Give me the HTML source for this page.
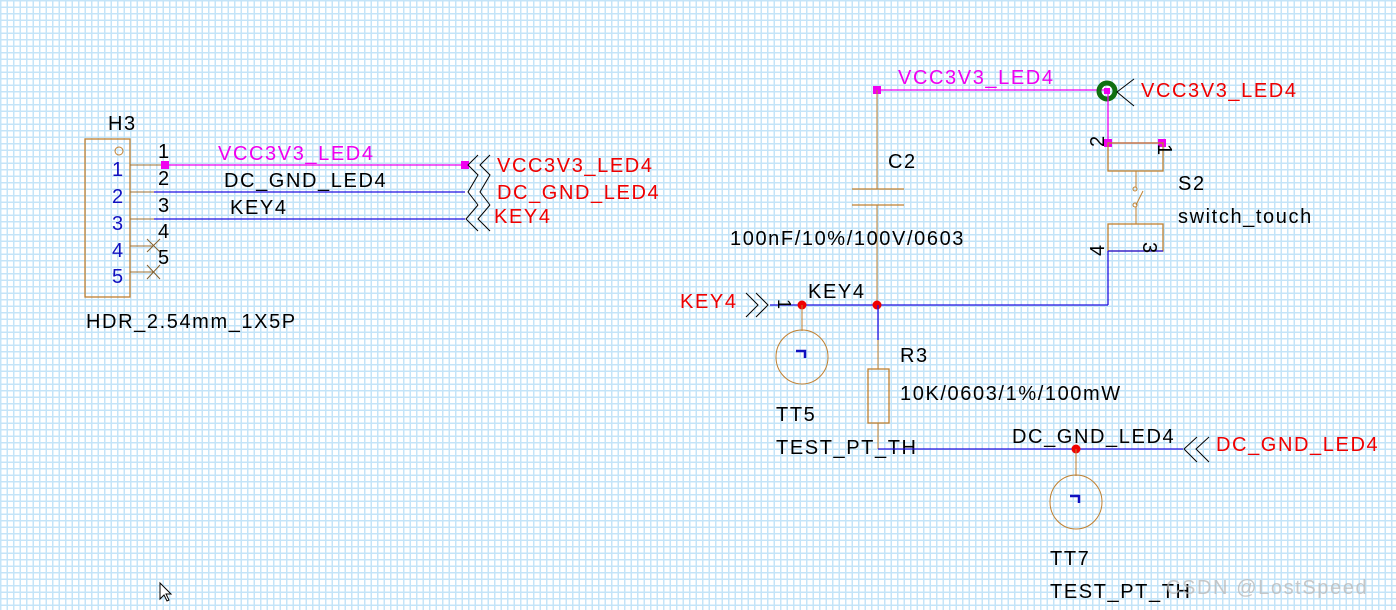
<!DOCTYPE html>
<html><head><meta charset="utf-8"><style>
html,body{margin:0;padding:0;}
body{width:1396px;height:610px;overflow:hidden;background-color:#fff;
background-image:linear-gradient(to right,#c4e4f8 1.3px,transparent 1.3px),linear-gradient(to bottom,#c4e4f8 1.3px,transparent 1.3px);
background-size:6.5px 6.5px;}
svg{position:absolute;left:0;top:0;}
text{font-family:"Liberation Sans",Arial,sans-serif;font-size:20px;letter-spacing:1.6px;}
</style></head><body>
<svg width="1396" height="610" viewBox="0 0 1396 610">
<text x="108" y="130" fill="#000">H3</text>
<rect x="85" y="139" width="45" height="158" fill="none" stroke="#c08030" stroke-width="1.3"/>
<circle cx="119" cy="151" r="4" fill="none" stroke="#c08030"/>
<g fill="#1010c0"><text x="112" y="176">1</text><text x="112" y="203">2</text><text x="112" y="230">3</text><text x="112" y="257">4</text><text x="112" y="283">5</text></g>
<g stroke="#a07030" stroke-width="1"><line x1="130" y1="165" x2="165" y2="165"/><line x1="130" y1="192" x2="155" y2="192"/><line x1="130" y1="219" x2="155" y2="219"/><line x1="130" y1="246" x2="153" y2="246"/><line x1="130" y1="272" x2="153" y2="272"/></g>
<g stroke="#806030" stroke-width="1"><line x1="147" y1="239" x2="160" y2="252"/><line x1="147" y1="252" x2="160" y2="239"/><line x1="147" y1="265" x2="160" y2="279"/><line x1="147" y1="279" x2="160" y2="265"/></g>
<g fill="#000"><text x="158" y="158">1</text><text x="158" y="185">2</text><text x="158" y="212">3</text><text x="158" y="238">4</text><text x="158" y="264">5</text></g>
<text x="86" y="328" fill="#000">HDR_2.54mm_1X5P</text>
<line x1="165" y1="165" x2="465" y2="165" stroke="#f000f0" stroke-width="1.3"/>
<line x1="154" y1="192" x2="465" y2="192" stroke="#2010e0" stroke-width="1.3"/>
<line x1="154" y1="219" x2="465" y2="219" stroke="#2010e0" stroke-width="1.3"/>
<rect x="161" y="161" width="8" height="8" fill="#f000f0"/><rect x="461" y="161" width="8" height="8" fill="#f000f0"/>
<g fill="none" stroke="#000" stroke-width="1"><polyline points="478,155 468,165 478,175 468,192 478,205"/><polyline points="490,155 480,165 490,175 480,192 490,205"/><polyline points="478,205 466,219 478,231"/><polyline points="490,205 478,219 490,231"/></g>
<text x="218" y="160" fill="#f000f0">VCC3V3_LED4</text>
<text x="224" y="187" fill="#000">DC_GND_LED4</text>
<text x="230" y="214" fill="#000">KEY4</text>
<text x="497" y="172" fill="#f00000">VCC3V3_LED4</text>
<text x="497" y="199" fill="#f00000">DC_GND_LED4</text>
<text x="494" y="223" fill="#f00000">KEY4</text>
<line x1="877" y1="90" x2="1107" y2="90" stroke="#f000f0" stroke-width="1.3"/>
<rect x="873" y="86" width="8" height="8" fill="#f000f0"/>
<text x="898" y="84" fill="#f000f0">VCC3V3_LED4</text>
<circle cx="1107" cy="91" r="8" fill="none" stroke="#107010" stroke-width="5"/>
<rect x="1104" y="88" width="6" height="6" fill="#f000f0"/>
<polyline points="1134,79 1117,92 1134,106" fill="none" stroke="#000"/>
<text x="1141" y="97" fill="#f00000">VCC3V3_LED4</text>
<line x1="1108" y1="90" x2="1108" y2="143" stroke="#f000f0" stroke-width="1.3"/>
<line x1="1108" y1="143" x2="1162" y2="143" stroke="#f000f0" stroke-width="1.3"/>
<rect x="1104" y="139" width="8" height="8" fill="#f000f0"/><rect x="1158" y="139" width="8" height="8" fill="#f000f0"/>
<rect x="1108" y="143" width="55" height="28" fill="none" stroke="#c08030" stroke-width="1.3"/>
<rect x="1108" y="224" width="55" height="27" fill="none" stroke="#c08030" stroke-width="1.3"/>
<g stroke="#c08030" fill="none"><line x1="1136" y1="171" x2="1136" y2="187"/><circle cx="1135" cy="189" r="2"/><line x1="1136" y1="205" x2="1143" y2="191"/><circle cx="1135" cy="205" r="2"/><line x1="1136" y1="207" x2="1136" y2="224"/></g>
<line x1="1108" y1="251" x2="1163" y2="251" stroke="#2010e0" stroke-width="1.3"/>
<text transform="translate(1104,147) rotate(-90)" fill="#000">2</text>
<text transform="translate(1158,144) rotate(90)" fill="#000">1</text>
<text transform="translate(1104,256) rotate(-90)" fill="#000">4</text>
<text transform="translate(1143,242) rotate(90)" fill="#000">3</text>
<text x="1178" y="190" fill="#000">S2</text>
<text x="1178" y="223" fill="#000">switch_touch</text>
<line x1="877" y1="90" x2="877" y2="189" stroke="#c08030"/>
<line x1="877" y1="205" x2="877" y2="305" stroke="#c08030"/>
<line x1="852" y1="189" x2="904" y2="189" stroke="#c08030" stroke-width="1.3"/>
<line x1="852" y1="205" x2="904" y2="205" stroke="#c08030" stroke-width="1.3"/>
<text x="888" y="168" fill="#000">C2</text>
<text x="730" y="245" fill="#000">100nF/10%/100V/0603</text>
<line x1="770" y1="305" x2="1108" y2="305" stroke="#2010e0" stroke-width="1.3"/>
<line x1="1108" y1="251" x2="1108" y2="305" stroke="#2010e0" stroke-width="1.3"/>
<g fill="none" stroke="#000"><polyline points="746,293 758,305 746,317"/><polyline points="756,293 768,305 756,317"/></g>
<text x="680" y="308" fill="#f00000">KEY4</text>
<text transform="translate(778,299) rotate(90)" fill="#000" style="font-size:18px">1</text>
<text x="808" y="298" fill="#000">KEY4</text>
<circle cx="802" cy="305" r="4.5" fill="#f00000"/><circle cx="877" cy="305" r="4.5" fill="#f00000"/>
<line x1="802" y1="305" x2="802" y2="331" stroke="#c08030"/>
<ellipse cx="802" cy="357" rx="26" ry="27" fill="none" stroke="#c08030"/>
<path d="M796 351 h9 v7" fill="none" stroke="#1010c0" stroke-width="2.5"/>
<text x="776" y="421" fill="#000">TT5</text>
<text x="776" y="454" fill="#000">TEST_PT_TH</text>
<line x1="878" y1="305" x2="878" y2="340" stroke="#2010e0" stroke-width="1.3"/>
<line x1="878" y1="340" x2="878" y2="369" stroke="#c08030"/>
<rect x="868" y="369" width="21" height="54" fill="none" stroke="#c08030" stroke-width="1.3"/>
<line x1="878" y1="423" x2="878" y2="449" stroke="#c08030"/>
<text x="900" y="362" fill="#000">R3</text>
<text x="900" y="400" fill="#000">10K/0603/1%/100mW</text>
<line x1="878" y1="449" x2="1183" y2="449" stroke="#2010e0" stroke-width="1.3"/>
<g fill="none" stroke="#000"><polyline points="1197,437 1184,449 1197,462"/><polyline points="1209,437 1196,449 1209,462"/></g>
<text x="1012" y="443" fill="#000">DC_GND_LED4</text>
<text x="1216" y="451" fill="#f00000">DC_GND_LED4</text>
<circle cx="1076" cy="449" r="4.5" fill="#f00000"/>
<line x1="1076" y1="449" x2="1076" y2="476" stroke="#c08030"/>
<ellipse cx="1076" cy="502" rx="26" ry="27" fill="none" stroke="#c08030"/>
<path d="M1070 496 h9 v7" fill="none" stroke="#1010c0" stroke-width="2.5"/>
<text x="1050" y="565" fill="#000">TT7</text>
<text x="1050" y="598" fill="#000">TEST_PT_TH</text>
<text x="1166" y="594" fill="#bbbbbb" opacity="0.8">CSDN @LostSpeed</text>
<path d="M160 583 v16 l4 -4 l3 6 l2 -1 l-3 -6 h5 z" fill="#fff" stroke="#000" stroke-width="1"/>
</svg>
</body></html>
